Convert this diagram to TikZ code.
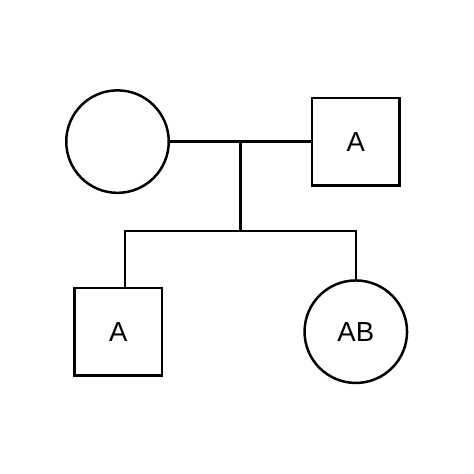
\documentclass[tikz,border=0pt]{standalone}
\usepackage{fontspec}
\setmainfont{Liberation Sans}
\begin{document}
\begin{tikzpicture}[x=1pt,y=-1pt,
	female/.style={draw,circle,line width=2.5pt,minimum size=102.5pt,inner sep=0pt,font=\fontsize{27.5}{32}\selectfont},
	male/.style={draw,rectangle,line width=2.5pt,minimum size=87.5pt,inner sep=0pt,font=\fontsize{27.5}{32}\selectfont},
	link/.style={line width=2.5pt}]
	\useasboundingbox (0,0) rectangle (474,474);
	
	% Parents
	\node [female] (mother) at (117.5,141.6) {};
	\node [male] (father) at (355.7,141.6) {A};
	% Children
	\node [male] (son) at (118.3,331.7) {A};
	\node [female] (daughter) at (355.8,331.7) {AB};
	
	\coordinate (mid) at (240.3,141.6);
	\coordinate (sib) at (240.3,231);
	
	% Lines
	\draw [link] (mother) -- (father);
	\draw [link] (mid) -- (sib);
	\draw [link] ([xshift=6.7pt]son.north) |- (sib) -| (daughter.north);
	
\end{tikzpicture}
\end{document}
